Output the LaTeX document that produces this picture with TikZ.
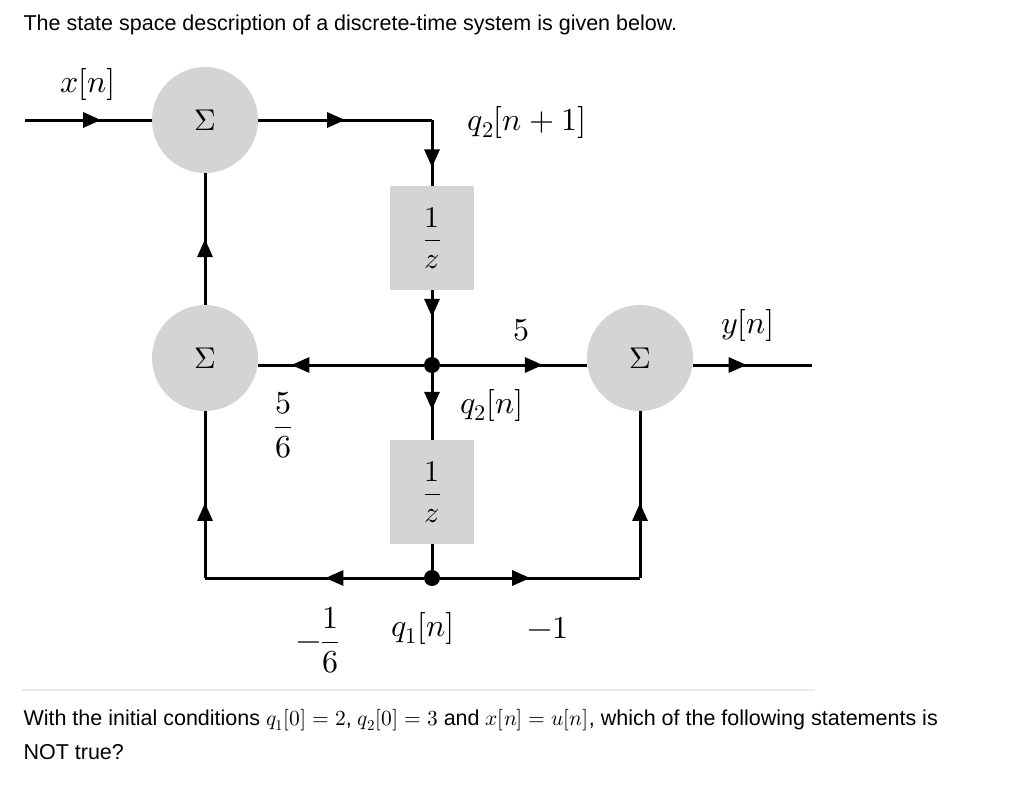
\documentclass[tikz,border=0pt]{standalone}
\usepackage{fontspec}
\usepackage{unicode-math}
\setmainfont{Liberation Serif}
\setmathfont{Latin Modern Math}
\newfontfamily\sans{Liberation Sans}
\usetikzlibrary{arrows.meta,decorations.markings}
\begin{document}
\begin{tikzpicture}[x=1pt,y=-1pt,
 sumnode/.style={circle,fill=black!17,minimum size=106pt,inner sep=0pt,font=\fontsize{30}{30}\selectfont},
 delaybox/.style={fill=black!17,minimum width=84pt,minimum height=104pt,inner sep=0pt,font=\fontsize{30}{30}\selectfont},
 wire/.style={line width=3pt},
 lbl/.style={font=\fontsize{32}{34}\selectfont},
 mid/.style={postaction={decorate},decoration={markings,mark=at position #1 with {\arrow{Triangle[length=18pt,width=15pt]}}}},
 dotn/.style={circle,fill=black,minimum size=16pt,inner sep=0pt},
 txt/.style={font=\sans\fontsize{21.5}{22}\selectfont,anchor=west}]
\useasboundingbox (0,0) rectangle (1024,795);
\node[txt] (t1) at (20,25) {The state space description of a discrete-time system is given below.};
\node[sumnode] (s1) at (205,120) {$\Sigma$};
\node[sumnode] (s2) at (205,358) {$\Sigma$};
\node[sumnode] (s3) at (640,358) {$\Sigma$};
\node[delaybox] (d1) at (432,238) {$\displaystyle\frac{1}{z}$};
\node[delaybox] (d2) at (432,492) {$\displaystyle\frac{1}{z}$};
\node[dotn] (n1) at (432,365) {};
\node[dotn] (n2) at (432,578) {};
\coordinate (in) at (25,120);
\coordinate (c1) at (432,120);
\coordinate (bl) at (205,578);
\coordinate (br) at (640,578);
\coordinate (out) at (812,365);
\draw[wire,mid=0.6] (in) -- (s1.west|-in);
\draw[wire,mid=0.5] (s1.east) -- (c1);
\draw[wire,mid=0.72] (c1) -- (d1.north);
\draw[wire,mid=0.4] (d1.south) -- (n1);
\draw[wire,mid=0.55] (n1) -- (d2.north);
\draw[wire] (d2.south) -- (n2);
\draw[wire,mid=0.8] (n1) -- (s2.east|-n1);
\draw[wire,mid=0.7] (n1) -- (s3.west|-n1);
\draw[wire,mid=0.45] (n2) -- (bl);
\draw[wire,mid=0.45] (n2) -- (br);
\draw[wire,mid=0.45] (bl) -- (s2.south);
\draw[wire,mid=0.45] (br) -- (s3.south);
\draw[wire,mid=0.5] (s2.north) -- (s1.south);
\draw[wire,mid=0.45] (s3.east|-out) -- (out);
\node[lbl] (lx) at (88,84) {$x[n]$};
\node[lbl] (lq2a) at (527,122) {$q_2[n+1]$};
\node[lbl] (ly) at (748,325) {$y[n]$};
\node[lbl] (l5) at (521,330) {$5$};
\node[lbl] (lq2) at (492,405) {$q_2[n]$};
\node[lbl] (l56) at (283,425) {$\displaystyle\frac{5}{6}$};
\node[lbl] (l16) at (318,640) {$-\displaystyle\frac{1}{6}$};
\node[lbl] (lq1) at (423,628) {$q_1[n]$};
\node[lbl] (lm1) at (548,628) {$-1$};
\draw[black!8,line width=1.5pt] (22,690) -- (815,690);
\node[txt] (t2) at (20,720) {With the initial conditions $q_1[0]=2$, $q_2[0]=3$ and $x[n]=u[n]$, which of the following statements is};
\node[txt] (t3) at (20,752) {NOT true?};
\end{tikzpicture}
\end{document}
